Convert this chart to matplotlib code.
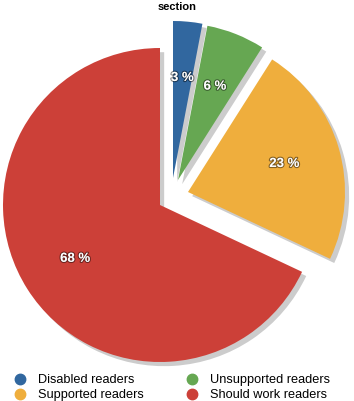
import matplotlib
matplotlib.use("Agg")
import matplotlib.pyplot as plt
import matplotlib.patheffects as pe
from matplotlib.lines import Line2D

plt.rcParams["font.family"] = ["Liberation Sans", "DejaVu Sans"]

TITLE = "section"
labels = ["Disabled readers", "Unsupported readers", "Supported readers", "Should work readers"]
shares = [3, 6, 23, 68]
colors = ["#31679f", "#66a752", "#efae3d", "#cc4038"]

W, H = 354, 401
R_PX = 157.0
CX, CY = 160.0, 205.0  # pie centre in pixels (from top-left)
# how far each slice is pulled out, in pixels (right, up)
pull = [(13, 27), (18, 25), (28, 13), (0, 0)]

fig = plt.figure(figsize=(W / 100, H / 100), dpi=100)
ax = fig.add_axes([0, 0, 1, 1])

wedges, texts, autotexts = ax.pie(
    shares, colors=colors, startangle=90, counterclock=False,
    radius=1.0, center=(0, 0), autopct=lambda p: f"{p:.0f} %", pctdistance=0.64,
    textprops=dict(color="white", fontsize=9.5, fontweight="bold"),
    wedgeprops=dict(linewidth=0),
)
ax.set_xlim(-CX / R_PX, (W - CX) / R_PX)
ax.set_ylim(-(H - CY) / R_PX, CY / R_PX)
ax.set_aspect("equal")
ax.axis("off")

for w, t, (dx, dy) in zip(wedges, autotexts, pull):
    w.set_center((dx / R_PX, dy / R_PX))
    x, y = t.get_position()
    t.set_position((x + dx / R_PX, y + dy / R_PX))
    w.set_path_effects([pe.SimplePatchShadow(offset=(3, -3), shadow_rgbFace="black", alpha=0.2),
                        pe.Normal()])
    t.set_path_effects([pe.Stroke(linewidth=1.6, foreground=(0, 0, 0, 0.45)), pe.Normal()])

fig.text(0.5, 1 - 7 / H, TITLE, ha="center", va="center", fontsize=8, fontweight="bold")

# legend filled row by row
order = [0, 2, 1, 3]
handles = [Line2D([], [], marker="o", linestyle="none", markersize=7.5,
                  markerfacecolor=colors[i], markeredgecolor=colors[i]) for i in order]
fig.legend(handles, [labels[i] for i in order], ncol=2, loc="upper left",
           bbox_to_anchor=(14 / W, 1 - 374 / H), frameon=False, fontsize=9.2,
           handlelength=1.0, handletextpad=0.84, columnspacing=3.35,
           labelspacing=0.25, borderpad=0, borderaxespad=0)

fig.savefig("out.png", dpi=100)
